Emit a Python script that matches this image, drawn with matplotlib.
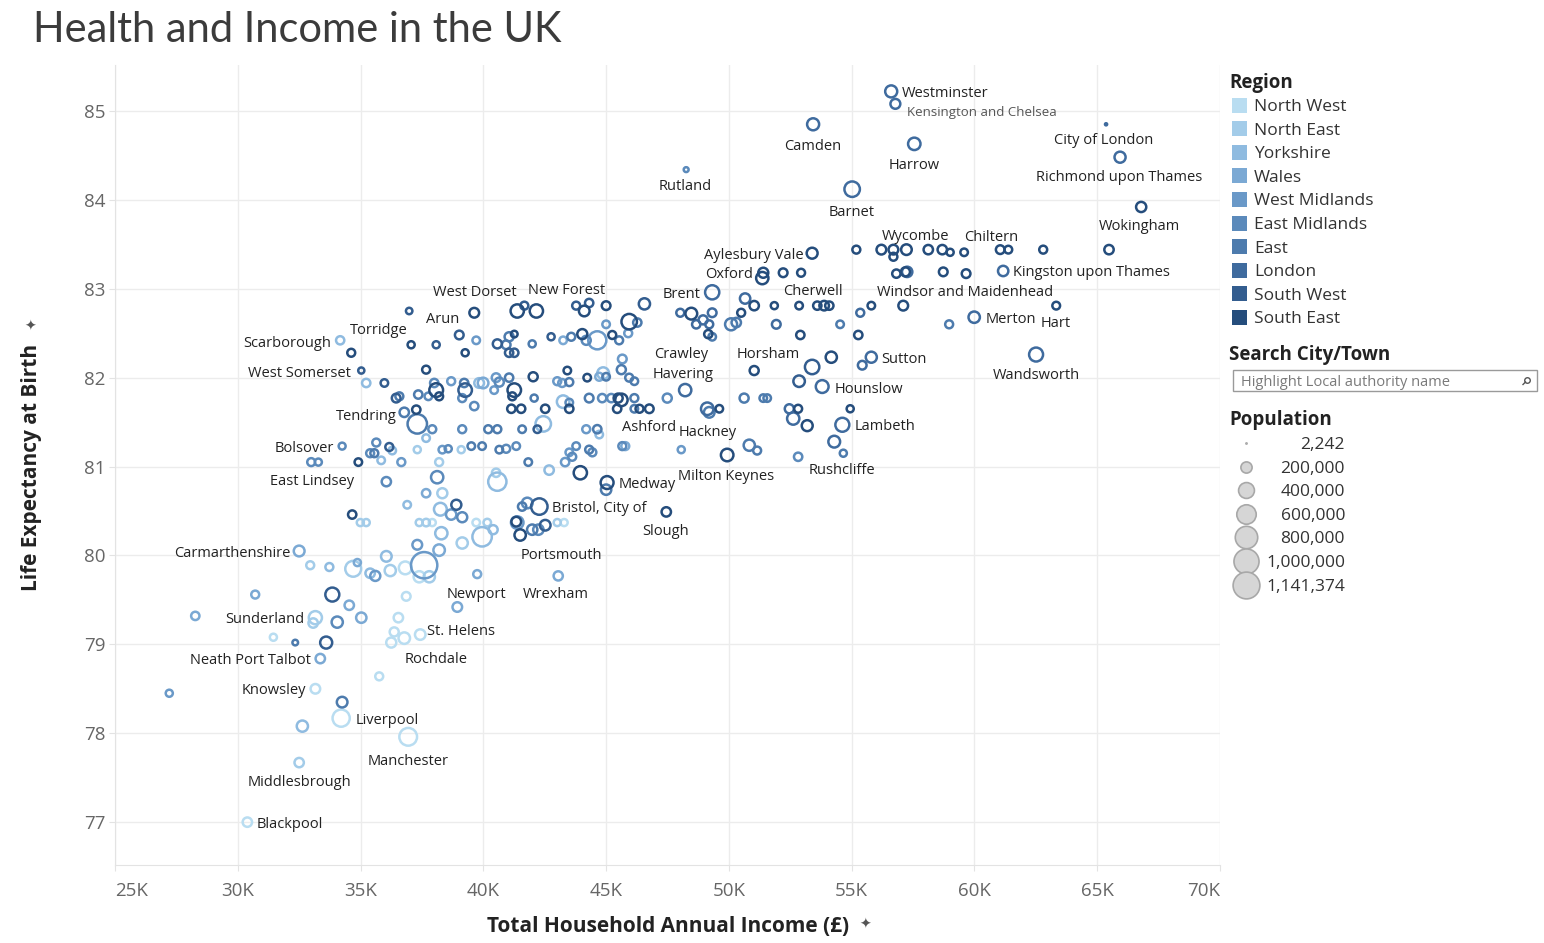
import matplotlib
matplotlib.use('Agg')
import matplotlib.pyplot as plt
from matplotlib.patches import Rectangle
import numpy as np

W, H = 1544, 943
plt.rcParams['font.family'] = ['Open Sans', 'DejaVu Sans']

# ---------------- data ----------------
region_names = ['North West', 'North East', 'Yorkshire', 'Wales', 'West Midlands',
                'East Midlands', 'East', 'London', 'South West', 'South East']
region_colors = ['#b9ddf1', '#a3cce9', '#8fbbe0', '#7ba9d4', '#6a99c8',
                 '#5b8abb', '#4d7bad', '#3f6b9e', '#335d8f', '#254d7c']

x_ticks = [25, 30, 35, 40, 45, 50, 55, 60, 65, 70]
x_tick_labels = ['25K', '30K', '35K', '40K', '45K', '50K', '55K', '60K', '65K', '70K']
y_ticks = [77, 78, 79, 80, 81, 82, 83, 84, 85]

size_legend_pops = [2242, 200000, 400000, 600000, 800000, 1000000, 1141374]
size_legend_labels = ['2,242', '200,000', '400,000', '600,000', '800,000', '1,000,000', '1,141,374']

# labelled local authorities
lab_names = ['Westminster', 'Kensington and Chelsea', 'Camden', 'Harrow', 'City of London',
             'Richmond upon Thames', 'Rutland', 'Barnet', 'Wokingham', 'Aylesbury Vale',
             'Wycombe', 'Chiltern', 'Oxford', 'Brent', 'Cherwell',
             'Kingston upon Thames', 'Windsor and Maidenhead', 'Merton', 'Hart', 'West Dorset',
             'New Forest', 'Arun', 'Torridge', 'Scarborough', 'West Somerset',
             'Tendring', 'Bolsover', 'East Lindsey', 'Carmarthenshire', 'Sunderland',
             'Neath Port Talbot', 'Knowsley', 'Liverpool', 'Manchester', 'Middlesbrough',
             'Blackpool', 'St. Helens', 'Rochdale', 'Newport', 'Wrexham',
             'Portsmouth', 'Bristol, City of', 'Medway', 'Slough', 'Milton Keynes',
             'Ashford', 'Hackney', 'Crawley', 'Havering', 'Horsham',
             'Rushcliffe', 'Lambeth', 'Hounslow', 'Sutton', 'Wandsworth']
lab_income = [56.61, 56.78, 53.43, 57.55, 65.36,
              65.93, 48.26, 55.02, 66.79, 53.39,
              57.23, 61.38, 51.40, 49.32, 53.88,
              61.17, 57.10, 59.99, 63.33, 41.67,
              44.11, 39.63, 36.98, 34.17, 35.03,
              36.78, 34.25, 36.05, 32.50, 33.16,
              33.36, 33.16, 34.21, 36.94, 32.50,
              30.39, 37.43, 36.78, 38.94, 43.05,
              41.50, 42.28, 45.04, 47.45, 49.93,
              46.76, 49.12, 49.16, 48.22, 51.03,
              52.82, 54.62, 53.80, 55.80, 62.51]
lab_life = [85.22, 85.08, 84.85, 84.63, 84.85,
            84.48, 84.34, 84.12, 83.92, 83.40,
            83.44, 83.44, 83.18, 82.96, 82.81,
            83.20, 82.81, 82.68, 82.81, 82.81,
            82.75, 82.73, 82.75, 82.42, 82.08,
            81.61, 81.23, 80.83, 80.05, 79.30,
            78.84, 78.50, 78.17, 77.96, 77.67,
            77.00, 79.11, 79.07, 79.42, 79.77,
            80.23, 80.55, 80.82, 80.49, 81.13,
            81.65, 81.65, 82.49, 81.86, 82.08,
            81.11, 81.47, 81.90, 82.23, 82.26]
lab_pop = [230000, 155000, 230000, 245000, 7400,
           195000, 38000, 380000, 165000, 190000,
           180000, 95000, 160000, 320000, 145000,
           170000, 150000, 205000, 95000, 100000,
           180000, 150000, 66000, 108000, 60000,
           140000, 77000, 137000, 185000, 275000,
           140000, 146000, 470000, 500000, 139000,
           140000, 176000, 210000, 146000, 135000,
           205000, 430000, 265000, 140000, 250000,
           118000, 250000, 107000, 240000, 130000,
           110000, 310000, 260000, 195000, 310000]
lab_region = [7, 7, 7, 7, 7,
              7, 5, 7, 9, 9,
              9, 9, 9, 7, 9,
              7, 9, 7, 9, 8,
              9, 9, 8, 2, 8,
              6, 5, 5, 3, 1,
              3, 0, 0, 0, 1,
              0, 0, 0, 3, 3,
              9, 8, 9, 9, 9,
              9, 7, 9, 7, 9,
              5, 7, 7, 7, 7]

# other (unlabelled) local authorities
oth_income = [55.19, 56.21, 56.70, 58.12, 58.69, 59.01, 59.58, 61.05, 62.80, 65.48,
              56.70, 52.21, 52.94, 56.82, 57.26, 57.19, 58.73, 59.66, 51.36, 58.97,
              55.80, 55.35, 53.60, 54.09, 52.86, 51.85, 51.03, 50.66, 50.50, 46.56,
              48.47, 48.02, 49.32, 48.67, 48.95, 49.20, 50.09, 50.30, 51.93, 54.53,
              49.32, 52.91, 55.27, 55.43, 54.17, 53.39, 52.86, 50.62, 51.40, 51.56,
              47.49, 49.61, 49.20, 46.36, 52.46, 52.82, 52.62, 53.19, 54.94, 54.29,
              54.66, 48.06, 50.83, 51.15, 45.00,
              39.02, 39.71, 40.57, 41.05, 41.26, 41.05, 41.26, 40.93, 41.99, 42.76,
              43.25, 43.58, 44.03, 44.19, 44.64, 45.25, 45.53, 45.90, 45.94, 46.27,
              45.00, 44.31, 43.78, 45.00, 42.16, 41.38, 37.06, 38.08, 39.26, 37.67,
              38.00, 38.08, 38.69, 39.22, 39.26, 39.83, 39.99, 40.52, 40.65, 40.44,
              41.05, 41.26, 42.03, 41.18, 42.07, 43.01, 43.21, 43.50, 43.42, 44.23,
              44.72, 44.88, 45.00, 45.62, 45.66, 45.94, 46.15, 36.58, 37.35, 37.76,
              38.20, 39.14, 39.63, 37.27, 37.31, 37.92, 37.67, 39.14, 40.20, 40.57,
              41.58, 42.20, 42.44, 41.14, 41.54, 42.52, 43.25, 43.50, 43.50, 44.31,
              44.84, 45.21, 45.49, 45.62, 45.45, 46.15, 46.15, 44.19, 44.64, 44.72,
              45.66, 45.78, 37.31, 38.33, 38.57, 39.10, 39.51, 39.95, 40.65, 40.93,
              41.34, 41.83, 42.68, 43.33, 43.62, 43.78, 43.50, 44.31, 44.44, 43.95,
              38.20, 38.12, 40.52, 40.57, 36.66, 37.67, 38.33, 36.90, 38.90, 38.25,
              39.14, 38.69, 37.39, 37.67, 37.92, 38.29, 39.14, 39.71, 40.16, 39.95,
              40.40, 41.38, 41.79, 41.58, 41.34, 41.99, 42.24, 42.52, 43.01, 43.29,
              37.59, 36.82, 37.39, 37.80, 39.75, 38.20, 37.31,
              34.62, 35.23, 35.97, 36.45, 32.99, 33.28, 34.91, 35.64, 35.39, 35.56,
              35.84, 36.17, 36.29, 34.66, 34.99, 35.23, 32.95, 33.73, 34.70, 34.87,
              35.39, 35.60, 36.05, 36.21, 30.71, 33.85, 34.54, 28.27, 33.07, 34.05,
              35.03, 36.54, 36.37, 36.25, 31.45, 32.34, 33.60, 35.76, 27.21, 34.25,
              32.63, 36.86]
oth_life = [83.44, 83.44, 83.44, 83.44, 83.44, 83.41, 83.41, 83.44, 83.44, 83.44,
            83.36, 83.18, 83.18, 83.17, 83.19, 83.19, 83.19, 83.17, 83.12, 82.60,
            82.81, 82.73, 82.81, 82.81, 82.81, 82.81, 82.81, 82.89, 82.73, 82.83,
            82.72, 82.73, 82.73, 82.60, 82.65, 82.60, 82.60, 82.62, 82.60, 82.60,
            82.46, 82.48, 82.48, 82.14, 82.23, 82.12, 81.96, 81.77, 81.77, 81.77,
            81.77, 81.65, 81.61, 81.65, 81.65, 81.65, 81.54, 81.46, 81.65, 81.28,
            81.15, 81.19, 81.24, 81.18, 80.74,
            82.48, 82.42, 82.38, 82.46, 82.49, 82.28, 82.28, 82.37, 82.38, 82.46,
            82.42, 82.46, 82.49, 82.42, 82.42, 82.48, 82.42, 82.50, 82.63, 82.62,
            82.60, 82.84, 82.81, 82.81, 82.75, 82.75, 82.37, 82.37, 82.28, 82.09,
            81.94, 81.86, 81.96, 81.94, 81.86, 81.94, 81.94, 82.00, 81.95, 81.86,
            82.00, 81.86, 82.01, 81.79, 81.77, 81.96, 81.94, 81.95, 82.08, 82.00,
            82.01, 82.05, 82.01, 82.09, 82.21, 82.00, 81.96, 81.79, 81.81, 81.79,
            81.79, 81.77, 81.68, 81.64, 81.48, 81.42, 81.32, 81.42, 81.42, 81.42,
            81.42, 81.42, 81.48, 81.65, 81.65, 81.65, 81.73, 81.72, 81.65, 81.77,
            81.77, 81.77, 81.77, 81.75, 81.65, 81.77, 81.65, 81.42, 81.42, 81.36,
            81.23, 81.23, 81.19, 81.19, 81.20, 81.19, 81.23, 81.23, 81.19, 81.20,
            81.23, 81.05, 80.96, 81.05, 81.11, 81.23, 81.16, 81.19, 81.16, 80.93,
            81.05, 80.88, 80.93, 80.83, 81.05, 80.70, 80.70, 80.57, 80.57, 80.52,
            80.43, 80.46, 80.37, 80.37, 80.37, 80.25, 80.14, 80.37, 80.37, 80.21,
            80.29, 80.37, 80.59, 80.55, 80.38, 80.29, 80.29, 80.34, 80.37, 80.37,
            79.89, 79.86, 79.76, 79.76, 79.79, 80.06, 80.12,
            82.28, 81.94, 81.94, 81.77, 81.05, 81.05, 81.05, 81.27, 81.15, 81.15,
            81.07, 81.22, 81.18, 80.46, 80.37, 80.37, 79.89, 79.87, 79.85, 79.92,
            79.80, 79.77, 79.99, 79.83, 79.56, 79.56, 79.44, 79.32, 79.24, 79.25,
            79.30, 79.30, 79.14, 79.02, 79.08, 79.02, 79.02, 78.64, 78.45, 78.35,
            78.08, 79.54]
oth_pop = [100000, 150000, 150000, 140000, 140000, 80000, 90000, 120000, 100000, 140000,
           100000, 120000, 100000, 110000, 170000, 130000, 120000, 120000, 240000, 100000,
           90000, 100000, 110000, 110000, 90000, 80000, 140000, 170000, 100000, 200000,
           220000, 100000, 120000, 110000, 130000, 100000, 230000, 140000, 120000, 90000,
           90000, 110000, 110000, 120000, 200000, 330000, 210000, 130000, 90000, 90000,
           130000, 90000, 180000, 100000, 130000, 100000, 240000, 190000, 80000, 220000,
           80000, 80000, 200000, 100000, 170000,
           120000, 90000, 130000, 130000, 70000, 110000, 110000, 120000, 80000, 80000,
           90000, 100000, 160000, 130000, 520000, 100000, 100000, 100000, 380000, 110000,
           90000, 110000, 100000, 120000, 280000, 280000, 80000, 80000, 80000, 100000,
           110000, 300000, 100000, 110000, 290000, 150000, 180000, 120000, 130000, 90000,
           110000, 290000, 130000, 100000, 80000, 100000, 100000, 100000, 90000, 90000,
           100000, 220000, 90000, 130000, 120000, 100000, 90000, 100000, 110000, 90000,
           100000, 100000, 110000, 110000, 600000, 100000, 90000, 100000, 100000, 100000,
           90000, 90000, 380000, 110000, 110000, 110000, 250000, 90000, 110000, 120000,
           110000, 110000, 130000, 250000, 110000, 100000, 90000, 100000, 110000, 90000,
           100000, 100000, 80000, 90000, 80000, 80000, 90000, 90000, 90000, 100000,
           90000, 90000, 140000, 110000, 100000, 90000, 90000, 100000, 100000, 280000,
           100000, 240000, 110000, 530000, 100000, 110000, 160000, 90000, 160000, 260000,
           160000, 170000, 80000, 90000, 80000, 240000, 200000, 90000, 90000, 600000,
           130000, 250000, 180000, 110000, 150000, 170000, 170000, 180000, 80000, 80000,
           1100000, 260000, 200000, 200000, 100000, 210000, 150000,
           100000, 110000, 90000, 120000, 100000, 80000, 90000, 100000, 100000, 100000,
           90000, 100000, 90000, 110000, 80000, 80000, 100000, 100000, 400000, 80000,
           140000, 160000, 180000, 200000, 100000, 310000, 140000, 110000, 140000, 200000,
           170000, 140000, 130000, 160000, 80000, 50000, 230000, 100000, 80000, 180000,
           200000, 120000]
oth_region = [9, 9, 9, 9, 9, 9, 9, 9, 9, 9,
              9, 9, 9, 9, 7, 9, 9, 9, 9, 6,
              9, 7, 9, 9, 9, 9, 9, 7, 9, 8,
              9, 7, 7, 7, 7, 7, 6, 6, 7, 6,
              6, 9, 9, 7, 9, 8, 8, 6, 6, 6,
              5, 9, 6, 9, 7, 9, 7, 9, 9, 7,
              6, 4, 6, 6, 6,
              8, 4, 8, 6, 9, 8, 8, 6, 6, 8,
              3, 6, 9, 5, 4, 9, 6, 4, 9, 6,
              4, 8, 8, 9, 9, 9, 9, 8, 9, 9,
              5, 9, 4, 6, 8, 2, 3, 4, 5, 4,
              6, 9, 9, 9, 6, 4, 4, 6, 9, 9,
              3, 2, 6, 6, 4, 6, 6, 6, 6, 5,
              9, 5, 5, 9, 6, 5, 2, 5, 6, 6,
              6, 8, 2, 9, 9, 9, 2, 5, 9, 6,
              5, 5, 9, 9, 9, 6, 6, 4, 6, 2,
              5, 3, 1, 4, 5, 1, 6, 6, 6, 5,
              5, 6, 2, 4, 5, 5, 4, 6, 5, 9,
              1, 5, 1, 2, 4, 3, 1, 2, 8, 2,
              5, 4, 1, 1, 0, 2, 1, 0, 1, 2,
              2, 4, 5, 6, 9, 6, 5, 8, 1, 0,
              4, 0, 0, 1, 3, 3, 4,
              9, 2, 8, 8, 5, 5, 9, 5, 5, 6,
              2, 8, 2, 9, 1, 1, 1, 2, 1, 3,
              2, 4, 2, 1, 3, 8, 3, 3, 1, 5,
              3, 0, 0, 0, 0, 6, 8, 0, 4, 6,
              2, 0]

# label placement (pixel offsets from the mark, +y = up) and alignment
label_style = {
    'Westminster': (11, 0, 'left'), 'Kensington and Chelsea': (12, -7, 'left'),
    'Camden': (0, -20, 'center'), 'Harrow': (0, -20, 'center'),
    'City of London': (-2, -14, 'center'), 'Richmond upon Thames': (-1, -18, 'center'),
    'Rutland': (-1, -15, 'center'), 'Barnet': (-1, -21, 'center'),
    'Wokingham': (-2, -18, 'center'), 'Aylesbury Vale': (-9, 0, 'right'),
    'Wycombe': (9, 15, 'center'), 'Chiltern': (-17, 14, 'center'),
    'Oxford': (-10, 0, 'right'), 'Brent': (-12, 0, 'right'),
    'Cherwell': (-11, 16, 'center'), 'Kingston upon Thames': (10, 0, 'left'),
    'Windsor and Maidenhead': (62, 15, 'center'), 'Merton': (11, 0, 'left'),
    'Hart': (-1, -16, 'center'), 'West Dorset': (-50, 15, 'center'),
    'New Forest': (-18, 22, 'center'), 'Arun': (-15, -5, 'right'),
    'Torridge': (-30, -18, 'center'), 'Scarborough': (-9, -1, 'right'),
    'West Somerset': (-10, -1, 'right'), 'Tendring': (-8, -2, 'right'),
    'Bolsover': (-8, 0, 'right'), 'East Lindsey': (-32, 2, 'right'),
    'Carmarthenshire': (-9, 0, 'right'), 'Sunderland': (-11, 0, 'right'),
    'Neath Port Talbot': (-9, 0, 'right'), 'Knowsley': (-9, 0, 'right'),
    'Liverpool': (14, 0, 'left'), 'Manchester': (0, -23, 'center'),
    'Middlesbrough': (0, -18, 'center'), 'Blackpool': (9, 0, 'left'),
    'St. Helens': (7, 5, 'left'), 'Rochdale': (32, -19, 'center'),
    'Newport': (19, 15, 'center'), 'Wrexham': (-2, -17, 'center'),
    'Portsmouth': (41, -18, 'center'), 'Bristol, City of': (13, 0, 'left'),
    'Medway': (12, 0, 'left'), 'Slough': (-1, -18, 'center'),
    'Milton Keynes': (-1, -20, 'center'), 'Ashford': (0, -17, 'center'),
    'Hackney': (0, -22, 'center'), 'Crawley': (-27, -18, 'center'),
    'Havering': (-2, 18, 'center'), 'Horsham': (14, 18, 'center'),
    'Rushcliffe': (44, -12, 'center'), 'Lambeth': (12, 0, 'left'),
    'Hounslow': (12, -1, 'left'), 'Sutton': (10, 0, 'left'),
    'Wandsworth': (0, -19, 'center'),
}
TEXT_SHIFT = -2  # pixels; compensates for baseline/centre differences of the font

# ---------------- drawing ----------------
SIZE_K = 372.0 / 1141374.0   # marker area (pt^2) per person


def marker_area(pop):
    return np.asarray(pop, dtype=float) * SIZE_K


fig = plt.figure(figsize=(W / 100, H / 100), dpi=100)
ax = fig.add_axes([115 / W, 1 - 865 / H, 1105 / W, 800 / H])
ax.set_xlim(25, 70)
ax.set_ylim(76.518, 85.517)

inc = np.array(oth_income + lab_income)
lif = np.array(oth_life + lab_life)
pop = np.array(oth_pop + lab_pop)
reg = np.array(oth_region + lab_region)
order = np.argsort(reg, kind='stable')
cols = [region_colors[r] for r in reg[order]]
ax.scatter(inc[order], lif[order], s=marker_area(pop[order]), facecolors='none',
           edgecolors=cols, linewidths=1.8, zorder=3)

for name, x, y in zip(lab_names, lab_income, lab_life):
    dx, dy, ha = label_style[name]
    small = name == 'Kensington and Chelsea'
    ax.annotate(name, (x, y), xytext=(dx, dy + TEXT_SHIFT), textcoords='offset pixels',
                ha=ha, va='center', fontsize=9.5 if small else 10.5,
                color='#555555' if small else '#222222', zorder=5)

ax.set_xticks(x_ticks)
ax.set_xticklabels(x_tick_labels)
ax.set_yticks(y_ticks)
ax.grid(True, color='#ececec', lw=1.0)
ax.set_axisbelow(True)
for s in ['top', 'right']:
    ax.spines[s].set_visible(False)
for s in ['left', 'bottom']:
    ax.spines[s].set_color('#e3e3e3')
ax.tick_params(axis='both', length=4, color='#e3e3e3', labelcolor='#666666', labelsize=13.5)
ax.tick_params(axis='x', pad=8)
ax.tick_params(axis='y', pad=3)
xt = ax.get_xticklabels()
xt[0].set_ha('left')
xt[-1].set_ha('right')

# titles
fig.text(33 / W, 1 - 30 / H, 'Health and Income in the UK', fontsize=30, color='#3b3b3b',
         family=['Lato', 'DejaVu Sans'], va='center', ha='left')
fig.text(668 / W, 1 - 927 / H, 'Total Household Annual Income (£)', fontsize=15,
         fontweight='bold', color='#222222', ha='center', va='center')
fig.text(32 / W, 1 - 467 / H, 'Life Expectancy at Birth', fontsize=15, rotation=90,
         fontweight='bold', color='#222222', ha='center', va='center')
# small pin glyphs next to the axis titles
fig.text(865 / W, 1 - 925 / H, '\u2726', fontsize=10, color='#555555', ha='center',
         va='center', family=['DejaVu Sans'])
fig.text(30 / W, 1 - 327 / H, '\u2726', fontsize=10, color='#555555', ha='center',
         va='center', family=['DejaVu Sans'])

# ---------------- legends (pixel overlay) ----------------
lax = fig.add_axes([0, 0, 1, 1])
lax.set_xlim(0, W)
lax.set_ylim(H, 0)
lax.axis('off')
lax.patch.set_alpha(0)

lax.text(1229, 83, 'Region', fontsize=13.5, fontweight='bold', color='#222222', va='center')
for i, (nm, c) in enumerate(zip(region_names, region_colors)):
    yy = 105 + i * 23.6
    lax.add_patch(Rectangle((1232, yy - 7.5), 15, 15, facecolor=c, edgecolor='none'))
    lax.text(1254, yy + 2, nm, fontsize=12.5, color='#333333', va='center')

lax.text(1229, 355, 'Search City/Town', fontsize=13.5, fontweight='bold', color='#222222', va='center')
lax.add_patch(Rectangle((1233, 370), 304, 21, facecolor='white', edgecolor='#9a9a9a', lw=1))
lax.text(1241, 382, 'Highlight Local authority name', fontsize=10.5, color='#7a7a7a', va='center')
lax.plot([1527], [380], marker='o', ms=4, mfc='none', mec='#555555', mew=1)
lax.plot([1523, 1525.5], [384.5, 382], color='#555555', lw=1)

lax.text(1229, 420, 'Population', fontsize=13.5, fontweight='bold', color='#222222', va='center')
for i, (p, lbl) in enumerate(zip(size_legend_pops, size_legend_labels)):
    yy = 443 + i * 23.6
    lax.scatter([1246], [yy], s=marker_area([p]), facecolors='#d6d6d6', edgecolors='#a8a8a8',
                linewidths=1.2)
    lax.text(1345, yy + 2, lbl, fontsize=12.5, color='#333333', va='center', ha='right')

fig.savefig('out.png', dpi=100)
